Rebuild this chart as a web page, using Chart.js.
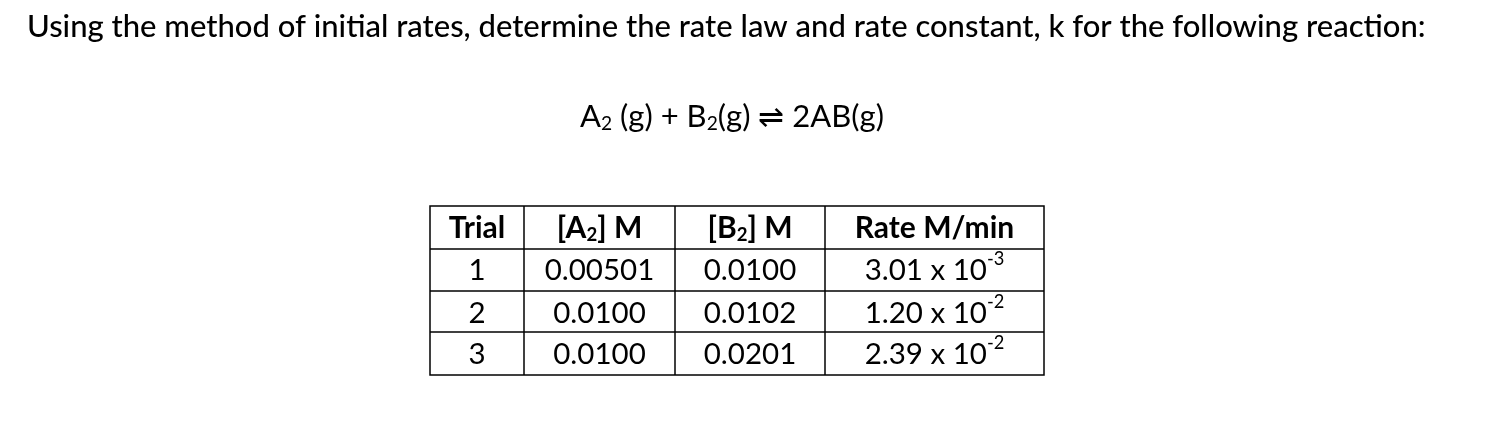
<!DOCTYPE html>
<html><head><meta charset="utf-8">
<script src="https://cdn.jsdelivr.net/npm/chart.js@4/dist/chart.umd.min.js"></script>
<style>html,body{margin:0;background:#fff}#w{width:1488px;height:441px}</style>
</head><body><div id="w"><canvas id="c"></canvas></div>
<script>
const titleText = "Using the method of initial rates, determine the rate law and rate constant, k for the following reaction:";
const headers = ["Trial", "[A2] M", "[B2] M", "Rate M/min"];
const trials = ["1", "2", "3"];
const concA = ["0.00501", "0.0100", "0.0100"];
const concB = ["0.0100", "0.0102", "0.0201"];
const rateMantissa = ["3.01", "1.20", "2.39"];
const rateExponent = ["-3", "-2", "-2"];

const F = "Lato, 'Noto Sans', sans-serif";
function subText(ctx, parts, x, y, size, weight, align) {
  let w = 0;
  const fonts = parts.map(p => `${weight} ${p[1] ? size*0.62 : size}px ${F}`);
  parts.forEach((p,i)=>{ctx.font=fonts[i]; w+=ctx.measureText(p[0]).width;});
  let cx = align==='center' ? x - w/2 : x;
  parts.forEach((p,i)=>{ctx.font=fonts[i];
    const dy = p[1]===1 ? size*0.22 : p[1]===2 ? -size*0.38 : 0;
    ctx.fillText(p[0], cx, y+dy); cx += ctx.measureText(p[0]).width;});
}
const tablePlugin = {
  id: 'tbl',
  afterDraw(chart) {
    const ctx = chart.ctx;
    ctx.save();
    ctx.fillStyle = '#000'; ctx.textBaseline = 'middle'; ctx.textAlign='left';
    ctx.font = `500 31px ${F}`;
    ctx.fillText(titleText, 27, 27);
    subText(ctx, [["A",0],["2",1],[" (g) + B",0],["2",1],["(g) ⇌ 2AB(g)",0]], 732, 117, 31, 400, 'center');
    const xs = [430, 524, 675, 825, 1044];
    const ys = [206, 249, 291, 332, 375];
    ctx.strokeStyle = '#000'; ctx.lineWidth = 1.5;
    ctx.strokeRect(xs[0], ys[0], xs[4]-xs[0], ys[4]-ys[0]);
    for (let i=1;i<4;i++){ctx.beginPath();ctx.moveTo(xs[i],ys[0]);ctx.lineTo(xs[i],ys[4]);ctx.stroke();}
    for (let j=1;j<4;j++){ctx.beginPath();ctx.moveTo(xs[0],ys[j]);ctx.lineTo(xs[4],ys[j]);ctx.stroke();}
    const cx = i => (xs[i]+xs[i+1])/2;
    const hy = 228;
    subText(ctx, [[headers[0],0]], cx(0), hy, 30, 700, 'center');
    subText(ctx, [["[A",0],["2",1],["] M",0]], cx(1), hy, 30, 700, 'center');
    subText(ctx, [["[B",0],["2",1],["] M",0]], cx(2), hy, 30, 700, 'center');
    subText(ctx, [[headers[3],0]], cx(3), hy, 30, 700, 'center');
    const rowY = [270, 313, 354];
    for (let r=0;r<3;r++){
      subText(ctx, [[trials[r],0]], cx(0), rowY[r], 29.5, 400, 'center');
      subText(ctx, [[concA[r],0]], cx(1), rowY[r], 29.5, 400, 'center');
      subText(ctx, [[concB[r],0]], cx(2), rowY[r], 29.5, 400, 'center');
      subText(ctx, [[rateMantissa[r]+" x 10",0],[rateExponent[r],2]], cx(3), rowY[r], 29.5, 400, 'center');
    }
    ctx.restore();
  }
};
new Chart(document.getElementById('c'), {
  type: 'bar',
  data: { labels: trials, datasets: [{ data: [], label: 'table' }] },
  options: { responsive: true, maintainAspectRatio: false, animation: false,
    plugins: { legend: { display: false }, tooltip: { enabled: false } },
    scales: { x: { display: false }, y: { display: false } } },
  plugins: [tablePlugin]
});
</script></body></html>
